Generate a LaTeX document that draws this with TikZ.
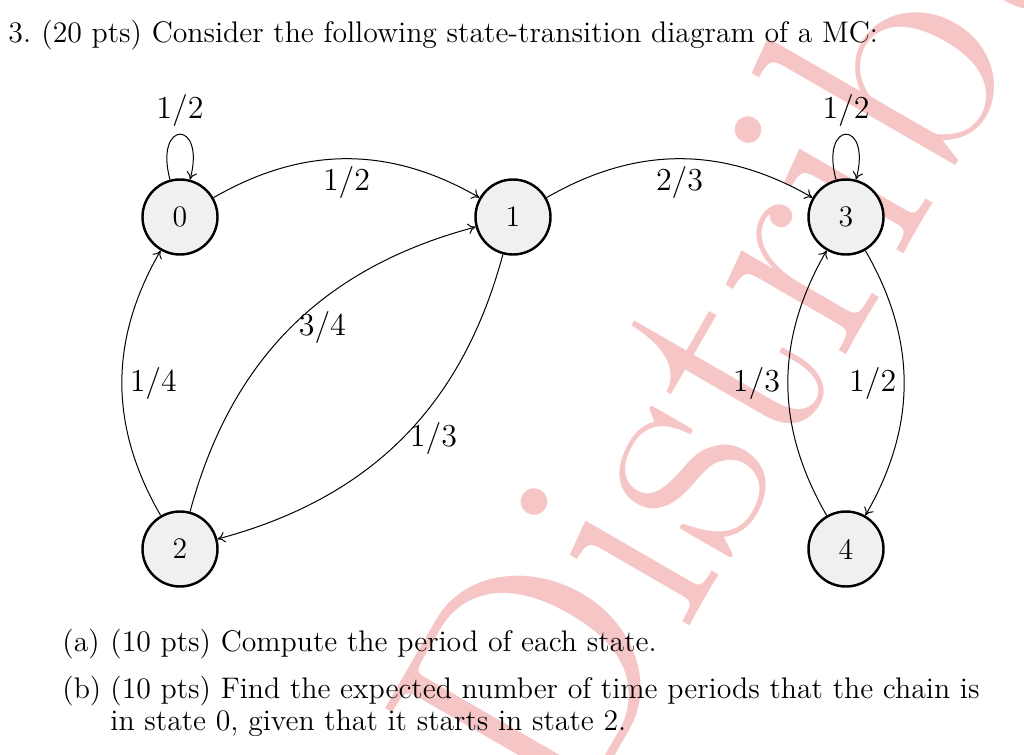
\documentclass[tikz,border=0pt]{standalone}
\usetikzlibrary{arrows.meta}
\definecolor{wm}{RGB}{246,198,199}
\definecolor{nodefill}{RGB}{240,240,240}
\begin{document}
\begin{tikzpicture}[x=0.45pt,y=0.45pt,
  font=\fontsize{13.4}{16}\selectfont,
  state/.style={circle, draw, line width=1.1pt, fill=nodefill, minimum size=33.75pt, inner sep=0pt},
  tr/.style={-{To[length=3.4pt,width=4.8pt]}, line width=0.45pt, bend left=30},
  selfloop/.style={-{To[length=3.4pt,width=4.8pt]}, line width=0.45pt, loop above, looseness=8, min distance=20pt},
  txt/.style={anchor=base west, inner sep=0pt}]
\useasboundingbox (0,0) rectangle (1024,-755);
\begin{scope}
  \clip (0,0) rectangle (1024,-755);
  \node[anchor=base west, rotate=60, text=wm, inner sep=0pt, font=\fontsize{146.5}{146.5}\selectfont] (wmk) at (569,-835) {Distribution};
\end{scope}
\node[txt] (num) at (8,-42) {3.};
\node[txt] (title) at (41,-42) {(20 pts) Consider the following state-transition diagram of a MC:};
\node[state] (s0) at (180,-217) {0};
\node[state] (s1) at (513,-217) {1};
\node[state] (s3) at (846,-217) {3};
\node[state] (s2) at (180,-549) {2};
\node[state] (s4) at (846,-549) {4};
\draw[selfloop] (s0) to node[above] (l00) {$1/2$} (s0);
\draw[tr] (s0) to node[below] (l01) {$1/2$} (s1);
\draw[tr] (s1) to node[below] (l13) {$2/3$} (s3);
\draw[selfloop] (s3) to node[above] (l33) {$1/2$} (s3);
\draw[tr] (s2) to node[right] (l20) {$1/4$} (s0);
\draw[tr] (s2) to node[right] (l21) {$3/4$} (s1);
\draw[tr] (s1) to node[right] (l12) {$1/3$} (s2);
\draw[tr] (s3) to node[left] (l34) {$1/2$} (s4);
\draw[tr] (s4) to node[left] (l43) {$1/3$} (s3);
\node[txt] (qa) at (62,-651) {(a)};
\node[txt] (qat) at (110,-651) {(10 pts) Compute the period of each state.};
\node[txt] (qb) at (62,-698) {(b)};
\node[txt] (qbt) at (110,-698) {(10 pts) Find the expected number of time periods that the chain is};
\node[txt] (qbt2) at (110,-730) {in state 0, given that it starts in state 2.};
\end{tikzpicture}
\end{document}
